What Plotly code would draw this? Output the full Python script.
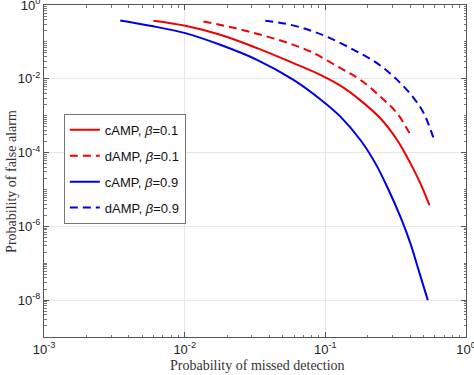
import plotly.graph_objects as go

# ---- data ----
camp01_x = [0.0060, 0.0101, 0.0179, 0.0327, 0.0594, 0.092, 0.128, 0.1775, 0.246, 0.324, 0.403, 0.474, 0.55]
camp01_y = [0.375, 0.274, 0.156, 0.0679, 0.0265, 0.0128, 0.0065, 0.0026, 8.49e-4, 2.19e-4, 5.09e-5, 1.46e-5, 3.74e-6]

damp01_x = [0.0136, 0.0211, 0.0327, 0.0505, 0.0782, 0.128, 0.1775, 0.246, 0.324, 0.403]
damp01_y = [0.358, 0.252, 0.166, 0.1025, 0.0549, 0.0194, 0.00933, 0.00328, 0.00116, 2.99e-4]

camp09_x = [0.00348, 0.00568, 0.0101, 0.0179, 0.0327, 0.0594, 0.092, 0.128, 0.1775, 0.227, 0.275, 0.342, 0.403, 0.461, 0.535]
camp09_y = [0.382, 0.274, 0.173, 0.0834, 0.0326, 0.00933, 0.00279, 9.4e-4, 2.19e-4, 5.09e-5, 1.18e-5, 1.80e-6, 3.41e-7, 6.41e-8, 1.0e-8]

damp09_x = [0.0374, 0.0564, 0.0782, 0.1054, 0.159, 0.233, 0.324, 0.425, 0.501, 0.585]
damp09_y = [0.375, 0.292, 0.204, 0.132, 0.061, 0.0265, 0.00933, 0.0030, 0.00116, 2.59e-4]

x_tickvals = [1e-3, 1e-2, 1e-1, 1e0]
x_ticktext = ["10<sup>-3</sup>", "10<sup>-2</sup>", "10<sup>-1</sup>", "10<sup>0</sup>"]
y_tickvals = [1e-8, 1e-6, 1e-4, 1e-2, 1e0]
y_ticktext = ["10<sup>-8</sup>", "10<sup>-6</sup>", "10<sup>-4</sup>", "10<sup>-2</sup>", "10<sup>0</sup>"]

RED = "#f00000"
BLUE = "#0000e6"

fig = go.Figure()
series = [
    (camp01_x, camp01_y, RED, "solid", "cAMP, <i>β</i>=0.1"),
    (damp01_x, damp01_y, RED, "8px,5px", "dAMP, <i>β</i>=0.1"),
    (camp09_x, camp09_y, BLUE, "solid", "cAMP, <i>β</i>=0.9"),
    (damp09_x, damp09_y, BLUE, "8px,5px", "dAMP, <i>β</i>=0.9"),
]
for i, (xs, ys, c, d, name) in enumerate(series):
    fig.add_trace(go.Scatter(
        x=xs, y=ys, mode="lines", name=name, legendgroup=str(i),
        line=dict(color=c, width=2, dash=d, shape="spline", smoothing=1.0),
    ))

axis_common = dict(
    type="log", showline=True, linecolor="#555555", linewidth=1, mirror="allticks",
    ticks="inside", ticklen=5, tickcolor="#555555",
    showgrid=True, gridcolor="#e6e6e6", gridwidth=1, zeroline=False,
    tickmode="array", ticklabeloverflow="allow", automargin=False,
    tickfont=dict(family="Liberation Sans, Arial", size=13, color="#222222"),
    minor=dict(ticks="inside", ticklen=2.5, tickcolor="#777777", dtick="D1", showgrid=False),
)

title_font = dict(family="Liberation Serif", size=14, color="#333333")

fig.update_layout(
    width=474, height=375,
    margin=dict(l=44, r=8, t=5, b=38),
    plot_bgcolor="white", paper_bgcolor="white",
    xaxis=dict(axis_common, range=[-3, 0], tickvals=x_tickvals, ticktext=x_ticktext),
    yaxis=dict(axis_common, range=[-9, 0], tickvals=y_tickvals, ticktext=y_ticktext),
    legend=dict(x=0.047, y=0.672, xanchor="left", yanchor="top",
                bgcolor="white", bordercolor="#777777", borderwidth=1,
                traceorder="grouped", tracegroupgap=6,
                font=dict(family="Liberation Sans, Arial", size=13, color="#111111")),
    showlegend=True,
    annotations=[
        dict(text="Probability of missed detection", xref="paper", yref="paper",
             x=0.505, y=-0.086, xanchor="center", yanchor="middle", showarrow=False,
             font=title_font),
        dict(text="Probability of false alarm", xref="paper", yref="paper",
             x=-0.076, y=0.47, xanchor="center", yanchor="middle", showarrow=False,
             textangle=-90, font=title_font),
    ],
)

fig.write_html("out.html", config={"displayModeBar": False},
               post_script="document.body.style.margin='0';")
